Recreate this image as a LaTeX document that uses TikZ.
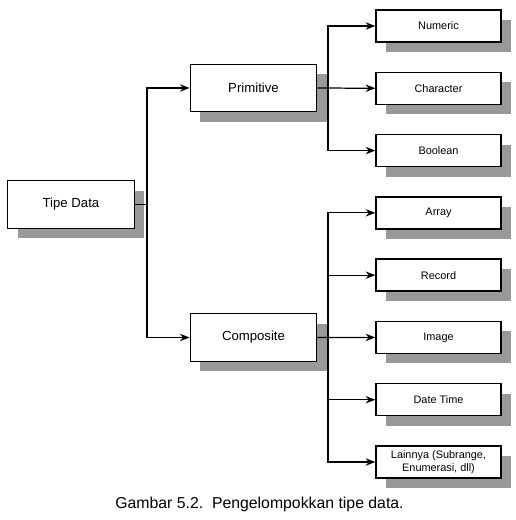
\documentclass[tikz,border=0pt]{standalone}
\usepackage{fontspec}
\setmainfont{Liberation Sans}
\usetikzlibrary{arrows.meta,positioning,shadows}

\begin{document}
\begin{tikzpicture}[x=0.02cm, y=-0.02cm, node distance=1.246cm,
    box/.style={rectangle, draw=black, thick, fill=white,
                drop shadow={shadow xshift=0.2cm, shadow yshift=-0.2cm,
                             fill=black!40, opacity=1}},
    main/.style={box, minimum width=2.53cm, minimum height=0.95cm,
                 font=\fontsize{7.5}{9}\selectfont},
    leaf/.style={box, minimum width=2.5cm, minimum height=0.64cm,
                 inner sep=1pt, align=center, on grid,
                 font=\fontsize{6.2}{7.6}\selectfont},
    link/.style={line width=0.7pt, -{Stealth[length=5.5pt,width=4.2pt]}}]
    \useasboundingbox (0,0) rectangle (516,520);

    % main boxes
    \node (tipe_data) [main] at (71,204.5) {Tipe Data};
    \node (primitive) [main] at (253.5,88) {Primitive};
    \node (composite) [main] at (253.5,337.5) {Composite};

    % leaves
    \node (numeric)   [leaf] at (438.5,26) {Numeric};
    \node (character) [leaf, below=of numeric]   {Character};
    \node (boolean)   [leaf, below=of character] {Boolean};
    \node (array)     [leaf, below=of boolean]   {Array};
    \node (record)    [leaf, below=of array]     {Record};
    \node (image)     [leaf, below=of record]    {Image};
    \node (date_time) [leaf, below=of image]     {Date Time};
    \node (lainnya)   [leaf, below=of date_time]
          {Lainnya (Subrange,\\Enumerasi, dll)};

    % connectors
    \coordinate (split_main) at ([xshift=0.24cm]tipe_data.east);
    \coordinate (split_prim) at ([xshift=0.21cm]primitive.east);
    \coordinate (split_comp) at ([xshift=0.21cm]composite.east);

    \draw [line width=0.7pt] (tipe_data.east) -- (split_main);
    \draw [link] (split_main) |- (primitive.west);
    \draw [link] (split_main) |- (composite.west);

    \draw [link] (primitive.east) -- (character.west);
    \draw [link] (split_prim) |- (numeric.west);
    \draw [link] (split_prim) |- (boolean.west);

    \draw [link] (composite.east) -- (image.west);
    \foreach \leaf in {array,record,date_time,lainnya}
        \draw [link] (split_comp) |- (\leaf.west);

    \node (caption) [font=\fontsize{9}{11}\selectfont] at (259.5,504)
          {Gambar 5.2.\ \ Pengelompokkan tipe data.};
\end{tikzpicture}
\end{document}
